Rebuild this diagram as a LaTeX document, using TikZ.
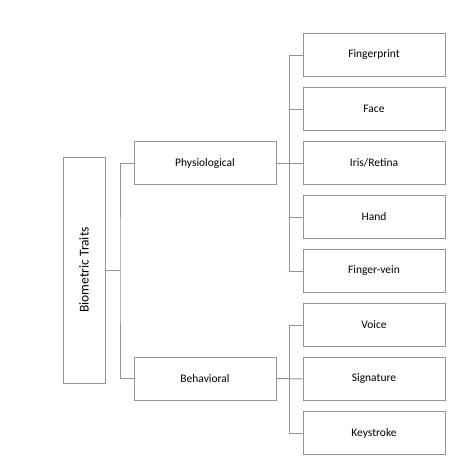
\documentclass[tikz,border=0pt]{standalone}
\usepackage{fontspec}
\setmainfont{Carlito}
\begin{document}
\begin{tikzpicture}[x=1pt,y=-1pt,
  box/.style={draw=black!42,line width=1pt,fill=white,inner sep=0pt,font=\fontsize{11.5}{13}\selectfont},
  conn/.style={draw=black!42,line width=1pt}]
\useasboundingbox[fill=white] (0,0) rectangle (474,474);
\node[box,minimum width=42pt,minimum height=226pt] (bio) at (84,270) {};
\node[rotate=90,font=\fontsize{13.5}{15}\selectfont] (biotext) at (bio.center) {Biometric Traits};
\node[box,minimum width=142pt,minimum height=43pt] (phys) at (205,163) {Physiological};
\node[box,minimum width=142pt,minimum height=43pt] (beh) at (205,378.5) {Behavioral};
\foreach \n/\t [count=\i from 0] in {fp/Fingerprint,face/Face,iris/Iris\slash Retina,hand/Hand,fv/Finger-vein,voice/Voice,sig/Signature,key/Keystroke}{
  \node[box,minimum width=142pt,minimum height=43pt] (\n) at (374,{55+54*\i}) {\t};
}
\coordinate (b1) at (120,270);
\draw[conn] (bio.east) -- (b1);
\draw[conn] (phys.west) -| (b1) |- (beh.west);
\coordinate (p1) at (289.5,163);
\draw[conn] (phys.east) -- (iris.west);
\draw[conn] (fp.west) -| (p1);
\draw[conn] (face.west) -- (face.west -| p1);
\draw[conn] (hand.west) -- (hand.west -| p1);
\draw[conn] (fv.west) -| (p1);
\coordinate (q1) at (289.5,378.5);
\draw[conn] (beh.east) -- (sig.west);
\draw[conn] (voice.west) -| (q1);
\draw[conn] (key.west) -| (q1);
\end{tikzpicture}
\end{document}
